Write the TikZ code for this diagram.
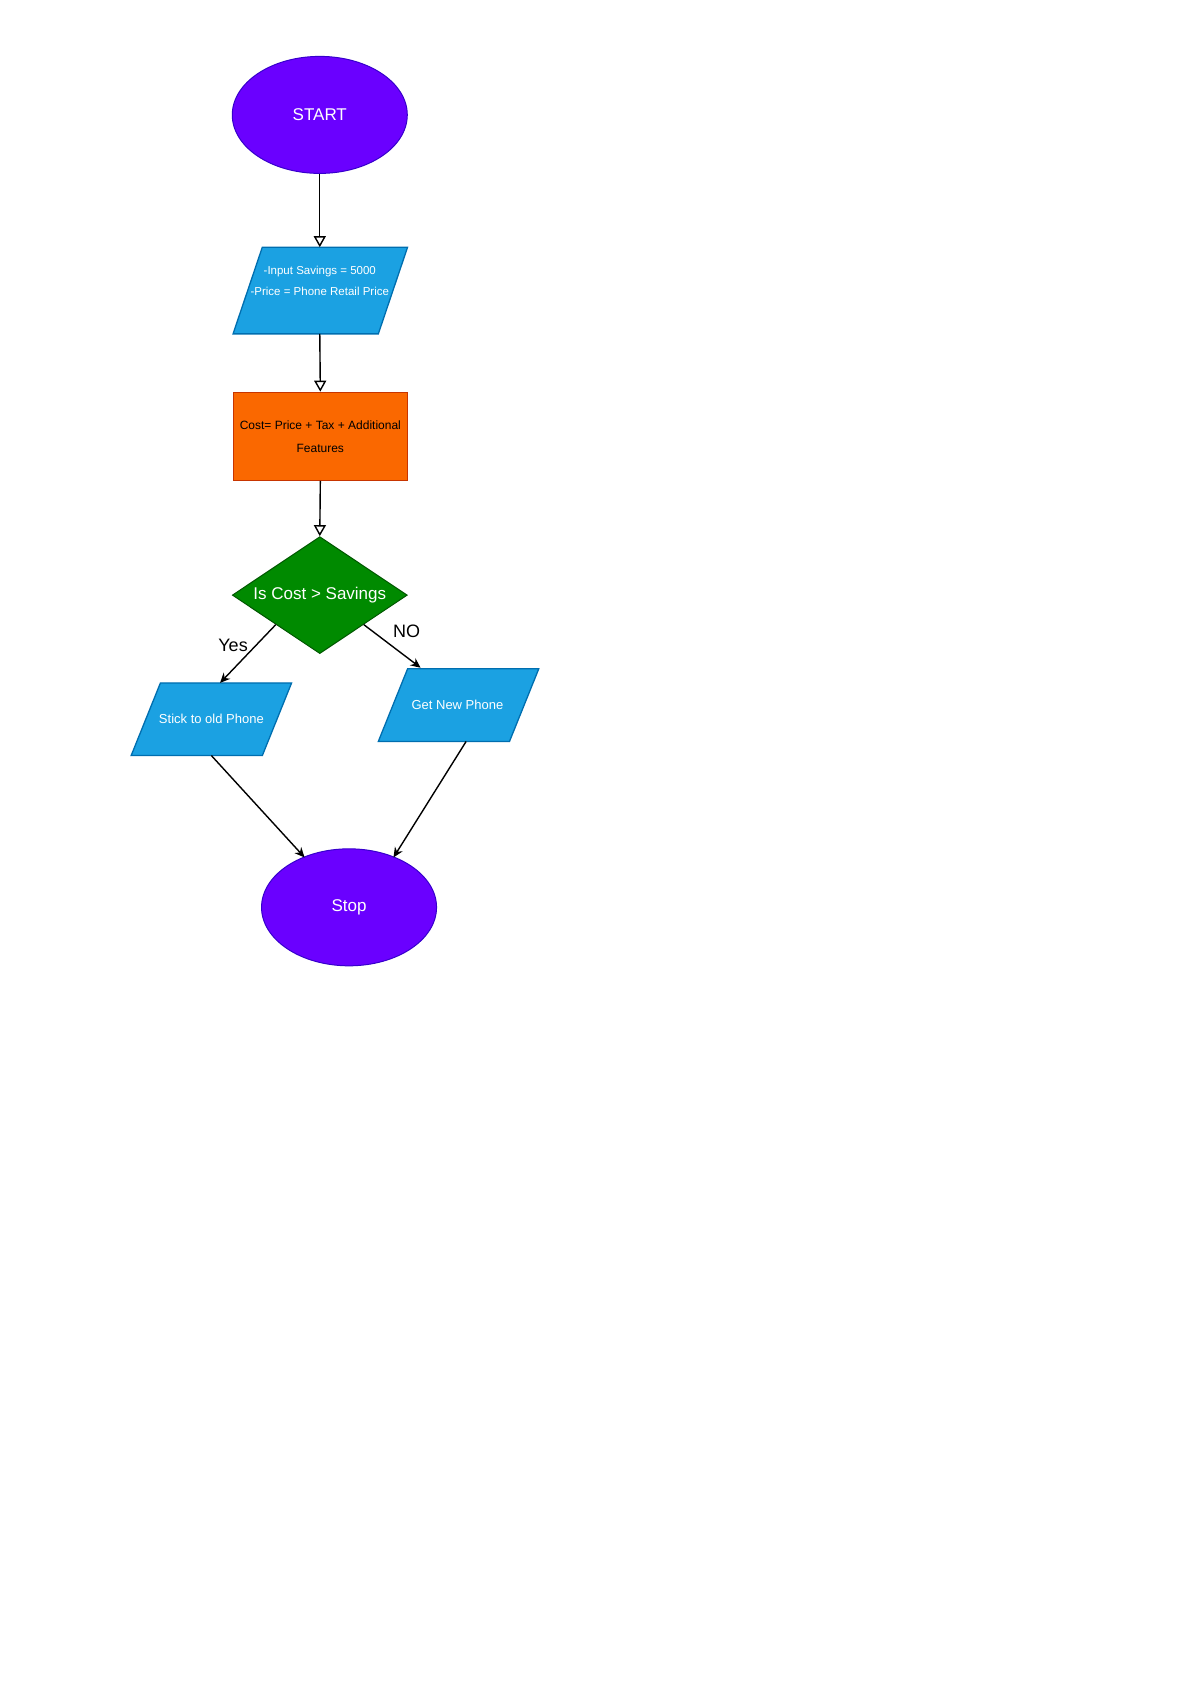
\documentclass[tikz,border=0pt]{standalone}
\usepackage{fontspec}
\setmainfont{Liberation Sans}
\usetikzlibrary{arrows.meta,shapes.geometric}
\definecolor{purp}{HTML}{6A00FF}\definecolor{purpd}{HTML}{3700CC}
\definecolor{blu}{HTML}{1BA1E2}\definecolor{blud}{HTML}{006EAF}
\definecolor{orn}{HTML}{FA6800}\definecolor{ornd}{HTML}{C73500}
\definecolor{grn}{HTML}{008A00}\definecolor{grnd}{HTML}{005700}
\tikzset{
 term/.style={ellipse,fill=purp,draw=purpd,line width=1pt,minimum width=175pt,minimum height=117pt,text=white,font=\fontsize{17}{20}\selectfont},
 io/.style={fill=blu,draw=blud,line width=1.3pt},
 wtxt/.style={text=white,align=center},
 openarr/.style={line width=1.4pt,-{Triangle[open,length=11pt,width=12pt,fill=white]}},
 arr/.style={line width=1.4pt,-{Stealth[length=10pt,width=9pt]}},
 lbl/.style={font=\fontsize{18}{20}\selectfont}
}
\begin{document}
\begin{tikzpicture}[x=1.084pt,y=-1.084pt]
\useasboundingbox (0,0) rectangle (1107,1565.5);
\node[term] (start) at (295,106) {START};
\draw[io] (242,228)--(376,228)--(349,308)--(215,308)--cycle;
\node[wtxt,font=\fontsize{11.5}{21}\selectfont] (inp) at (295,259) {-Input Savings = 5000\\-Price = Phone Retail Price};
\coordinate (inT) at (295,228); \coordinate (inB) at (295,308);
\node[draw=ornd,fill=orn,line width=1.3pt,minimum width=174pt,minimum height=88pt,align=center,font=\fontsize{12}{23}\selectfont] (proc) at (295.5,402.5) {Cost= Price + Tax + Additional\\Features};
\node[diamond,aspect=1.5,fill=grn,draw=grnd,line width=1pt,minimum width=175pt,minimum height=117pt,inner sep=0pt,text=white,font=\fontsize{17}{20}\selectfont] (dec) at (295,549) {Is Cost > Savings};
\draw[io] (148,630)--(269,630)--(242,697)--(121,697)--cycle;
\node[wtxt,font=\fontsize{13}{15}\selectfont] (old) at (195,663) {Stick to old Phone};
\draw[io] (376,617)--(497,617)--(470,684)--(349,684)--cycle;
\node[wtxt,font=\fontsize{13}{15}\selectfont] (new) at (422,650) {Get New Phone};
\node[term] (stop) at (322,837) {Stop};
\coordinate (oldT) at (203,630); \coordinate (oldB) at (195,697);
\coordinate (newT) at (388,616); \coordinate (newB) at (430,684);
\draw[openarr] (start) -- (inT);
\draw[openarr] (inB) -- (proc.north);
\draw[openarr] (proc.south) -- (dec.north);
\draw[arr] (dec.south west) -- (oldT);
\draw[arr] (dec.south east) -- (newT);
\draw[arr] (oldB) -- (281,791);
\draw[arr] (newB) -- (363,791);
\node[lbl] (yes) at (215,595) {Yes};
\node[lbl] (no) at (375,582) {NO};
\end{tikzpicture}
\end{document}
